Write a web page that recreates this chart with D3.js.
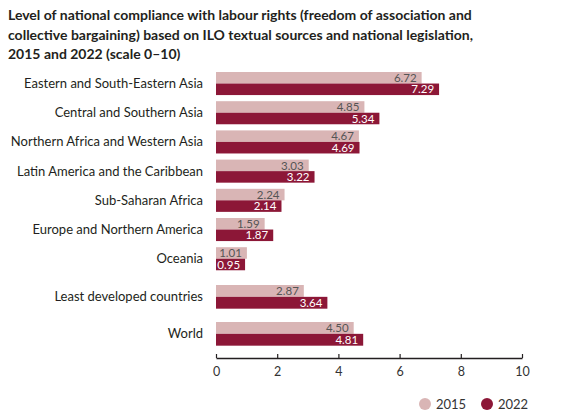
<!DOCTYPE html>
<html>
<head>
<meta charset="utf-8">
<script src="https://cdn.jsdelivr.net/npm/d3@7"></script>
<style>
  body { margin: 0; background: #fff; }
  svg { display: block; font-family: Lato, "Noto Sans", sans-serif; }
</style>
</head>
<body>
<div id="chart"></div>
<script>
const titleLines = [
  'Level of national compliance with labour rights (freedom of association and',
  'collective bargaining) based on ILO textual sources and national legislation,',
  '2015 and 2022 (scale 0\u201310)'
];

const regions = [
  'Eastern and South-Eastern Asia',
  'Central and Southern Asia',
  'Northern Africa and Western Asia',
  'Latin America and the Caribbean',
  'Sub-Saharan Africa',
  'Europe and Northern America',
  'Oceania'
];
const aggregates = ['Least developed countries', 'World'];

const years = ['2015', '2022'];
const values2015 = [6.72, 4.85, 4.67, 3.03, 2.24, 1.59, 1.01, 2.87, 4.50];
const values2022 = [7.29, 5.34, 4.69, 3.22, 2.14, 1.87, 0.95, 3.64, 4.81];
const xTicks = [0, 2, 4, 6, 8, 10];

const COLORS = { '2015': '#d9b5b5', '2022': '#8c1737' };
const LABEL_COLORS = { '2015': '#555555', '2022': '#ffffff' };

const width = 563, height = 418;

const svg = d3.select('#chart')
  .append('svg')
  .attr('width', width)
  .attr('height', height);

// Title
svg.append('g')
  .selectAll('text')
  .data(titleLines)
  .join('text')
  .attr('x', 8)
  .attr('y', (d, i) => 20 + i * 19.7)
  .attr('font-size', '14px')
  .attr('font-weight', 'bold')
  .attr('fill', '#231f20')
  .text(d => d);

const x = d3.scaleLinear().domain([0, 10]).range([216, 522]);

// regions and aggregates sit in two blocks with different row spacing
function bandBlock(domain, top, step, pad) {
  return d3.scaleBand()
    .domain(domain)
    .range([top, top + step * (domain.length - pad)])
    .paddingInner(pad)
    .paddingOuter(0);
}
const yRegion = bandBlock(regions, 72, 29.2, 0.21);
const yAgg = bandBlock(aggregates, 285, 37, 0.36);

const categories = regions.concat(aggregates);
const rows = categories.map((c, i) => {
  const scale = i < regions.length ? yRegion : yAgg;
  return { name: c, y0: scale(c), bw: scale.bandwidth(), values: { '2015': values2015[i], '2022': values2022[i] } };
});

const g = svg.append('g');

const row = g.selectAll('g.row')
  .data(rows)
  .join('g')
  .attr('class', 'row')
  .attr('transform', d => `translate(0,${d.y0})`);

row.append('text')
  .attr('x', 203)
  .attr('y', d => d.bw / 2)
  .attr('dy', '0.35em')
  .attr('text-anchor', 'end')
  .attr('font-size', '13px')
  .attr('fill', '#231f20')
  .text(d => d.name);

row.each(function(d) {
  const inner = d3.scaleBand().domain(years).range([0, d.bw]);
  const sel = d3.select(this);
  const items = years.map(yr => ({ yr, v: d.values[yr] }));

  sel.selectAll('rect')
    .data(items)
    .join('rect')
    .attr('x', x(0))
    .attr('y', e => inner(e.yr))
    .attr('width', e => x(e.v) - x(0))
    .attr('height', inner.bandwidth())
    .attr('fill', e => COLORS[e.yr]);

  sel.selectAll('text.val')
    .data(items)
    .join('text')
    .attr('class', 'val')
    .attr('x', e => x(e.v) - 5)
    .attr('y', e => inner(e.yr) + inner.bandwidth() / 2)
    .attr('dy', '0.36em')
    .attr('text-anchor', 'end')
    .attr('font-size', '11.5px')
    .attr('fill', e => LABEL_COLORS[e.yr])
    .text(e => e.v.toFixed(2));
});

// Axis
const axis = svg.append('g')
  .attr('transform', 'translate(0,358)')
  .call(d3.axisBottom(x).tickValues(xTicks).tickSizeInner(-4).tickSizeOuter(0).tickPadding(9));

axis.select('.domain').attr('stroke', '#231f20').attr('stroke-width', 1.5);
axis.selectAll('.tick line').attr('stroke', '#231f20').attr('stroke-width', 1.2);
axis.selectAll('.tick text')
  .attr('font-family', 'Lato, "Noto Sans", sans-serif')
  .attr('font-size', '12.5px')
  .attr('fill', '#333');

// Legend
const legend = svg.append('g')
  .selectAll('g')
  .data(years)
  .join('g')
  .attr('transform', (d, i) => `translate(${425 + i * 62},404)`);

legend.append('circle')
  .attr('r', 6)
  .attr('fill', d => COLORS[d]);

legend.append('text')
  .attr('x', 11)
  .attr('dy', '0.36em')
  .attr('font-size', '13px')
  .attr('fill', '#333')
  .text(d => d);
</script>
</body>
</html>
